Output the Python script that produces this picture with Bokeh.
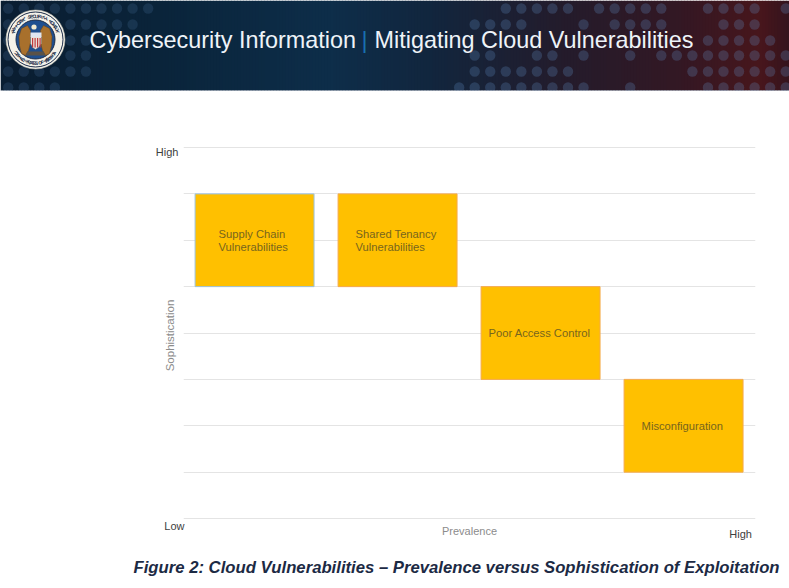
import math
import numpy as np
from bokeh.plotting import figure
from bokeh.layouts import column
from bokeh.models import Range1d, FixedTicker, Label, ColumnDataSource, Title
from bokeh.core.properties import value
from bokeh.embed import file_html
from bokeh.resources import INLINE

# ---- chart data ----
categories = ["Supply Chain\nVulnerabilities", "Shared Tenancy\nVulnerabilities",
              "Poor Access Control", "Misconfiguration"]
prevalence = [0.5, 1.5, 2.5, 3.5]
soph_low = [5, 5, 3, 1]
soph_high = [7, 7, 5, 3]
edge_colors = ["#9cc3e0", "#f5a94e", "#f5a94e", "#f5a94e"]
label_offsets = [-36, -42, -52, -42]
levels = [0, 1, 2, 3, 4, 5, 6, 7, 8]
y_tick_labels = {7.91: "High\u00a0\u00a0", -0.17: "Low"}
x_tick_labels = {3.899: "High"}

# ---- banner data ----
banner_left = "Cybersecurity Information"
banner_right = "Mitigating Cloud Vulnerabilities"
caption = "Figure 2: Cloud Vulnerabilities \u2013 Prevalence versus Sophistication of Exploitation"
dot_rows = {
    8: [0, 1, 2, 3, 4, 5, 6, 7, 8, 9, 32, 33, 34, 35, 36, 38, 39, 40, 41, 42, 45, 46, 47, 48, 50],
    24: [0, 4, 5, 6, 7, 8, 30, 31, 32, 33, 37, 39, 40, 41, 42, 46, 47, 48],
    40: [0, 4, 5, 45, 46, 47, 48, 49],
    55: [0, 4, 5, 30, 31, 34, 35, 37, 40, 42, 43, 44, 45, 46, 47, 48, 49, 50],
    71: [0, 1, 2, 3, 4, 5, 30, 31, 32, 33, 34, 35, 36, 44, 45, 46, 47, 48, 49, 50],
    87: [0, 1, 2, 3, 29, 30, 31, 32, 33, 34, 35, 36, 37, 40, 45, 46, 47, 48, 49, 50],
}
grad_x = [0, 150, 330, 430, 560, 680, 760, 789]
grad_r = [10, 10, 14, 18, 36, 52, 72, 50]
grad_g = [30, 36, 46, 38, 28, 24, 22, 20]
grad_b = [50, 58, 74, 62, 44, 36, 28, 30]

FONT = value("Liberation Sans")

# ---- banner ----
h = figure(width=789, height=91, x_range=Range1d(0, 789), y_range=Range1d(91, 0),
           toolbar_location=None, output_backend="svg", min_border=0)
h.axis.visible = False
h.grid.visible = False
h.outline_line_color = None

xs = np.arange(0, 789, 3)
cols = ["#%02x%02x%02x" % (int(np.interp(v, grad_x, grad_r)), int(np.interp(v, grad_x, grad_g)),
                           int(np.interp(v, grad_x, grad_b))) for v in xs]
h.quad(left=xs, right=xs + 3.5, top=0, bottom=90, fill_color=cols, line_color=None)

dx, dy, da = [], [], []
for row, cs in dot_rows.items():
    for c in cs:
        dx.append(7.7 + 15.55 * c)
        dy.append(row)
        da.append(0.17 if c < 20 else 0.26)
h.circle(dx, dy, radius=5.2, fill_color="#5f8fc4", fill_alpha=da, line_color=None)
h.quad(left=0, right=789, top=90, bottom=91, fill_color="#9aa4b4", line_color=None)

# seal
cx, cy = 35, 39
h.circle([cx], [cy], radius=29.5, fill_color="#f4f2ea", line_color="#c9c4b4", line_width=0.5)
h.circle([cx], [cy], radius=27.5, fill_color="#f4f2ea", line_color="#1c2c48", line_width=1)
h.circle([cx], [cy], radius=19.5, fill_color="#1f4f8f", line_color="#1c2c48", line_width=1)
for txt, start, end, up in [("NATIONAL SECURITY AGENCY", 160, 20, True),
                            ("UNITED STATES OF AMERICA", 215, 325, False)]:
    n = len(txt)
    for k, ch in enumerate(txt):
        a = math.radians(start + (end - start) * k / (n - 1))
        px = cx + 23.5 * math.cos(a)
        py = cy - 23.5 * math.sin(a)
        rot = a - math.pi / 2 if up else a + math.pi / 2
        h.text([px], [py], text=[ch], text_font=FONT, text_font_size="5px", text_font_style="bold",
               text_color="#1c2c48", text_align="center", text_baseline="middle", angle=[-rot])
wing_l_x = [27, 21, 18.5, 19, 21, 25, 28, 30, 30]
wing_l_y = [25, 28, 36, 45, 53, 55, 50, 42, 30]
wing_r_x = [43, 49, 51.5, 51, 49, 45, 42, 40, 40]
h.patch(wing_l_x, wing_l_y, fill_color="#a8702c", line_color="#6b4518", line_width=0.5)
h.patch(wing_r_x, wing_l_y, fill_color="#a8702c", line_color="#6b4518", line_width=0.5)
h.patch([30, 41, 41, 38, 35, 32, 30], [36, 36, 43, 47, 49, 47, 43], fill_color="#e8e2dc", line_color="#555555", line_width=0.4)
for sx in [31.5, 34, 36.5, 39]:
    h.quad(left=sx, right=sx + 1.2, top=37.5, bottom=47, fill_color="#c03a3a", line_color=None)
h.quad(left=30, right=41, top=32, bottom=36.5, fill_color="#dfe6f2", line_color=None)
h.circle([33.5], [26.5], radius=2.6, fill_color="#f2ead0", line_color=None)
h.patch([27, 43, 45, 25], [51, 51, 55, 55], fill_color="#5a5248", line_color=None)

h.text([89], [39], text=[banner_left], text_font=FONT, text_font_size="23.4px", text_color="#eef3f8",
       text_align="left", text_baseline="middle")
h.text([364], [39], text=["|"], text_font=FONT, text_font_size="23.4px", text_color="#1a6fb0",
       text_align="center", text_baseline="middle")
h.text([374], [39], text=[banner_right], text_font=FONT, text_font_size="23.4px", text_color="#eef3f8",
       text_align="left", text_baseline="middle")

# ---- chart ----
unit = 46.375
p = figure(width=789, height=497, x_range=Range1d(0.003, 4.003), y_range=Range1d(-9 / unit, 8 + 4 / unit),
           toolbar_location=None, output_backend="svg",
           min_border_left=183, min_border_right=34, min_border_top=52, min_border_bottom=61,
           frame_width=572, frame_height=384)
p.outline_line_color = None
p.xgrid.visible = False
p.ygrid.ticker = FixedTicker(ticks=levels)
p.ygrid.grid_line_color = "#e4e4e4"
p.ygrid.grid_line_width = 1

for ax, label, standoff, size, ticks, tick_standoff in [
        (p.xaxis[0], "Prevalence", -18, "11px", x_tick_labels, -6),
        (p.yaxis[0], "Sophistication", -23, "11.5px", y_tick_labels, -7)]:
    ax.axis_label = label
    ax.axis_label_text_font = "Liberation Sans"
    ax.axis_label_text_font_size = size
    ax.axis_label_text_font_style = "normal"
    ax.axis_label_text_color = "#8c8c8c"
    ax.axis_label_standoff = standoff
    ax.axis_line_color = None
    ax.major_tick_line_color = None
    ax.minor_tick_line_color = None
    ax.ticker = FixedTicker(ticks=list(ticks))
    ax.major_label_overrides = ticks
    ax.major_label_standoff = tick_standoff
    ax.major_label_text_font = "Liberation Sans"
    ax.major_label_text_font_size = "11px"
    ax.major_label_text_color = "#404040"

source = ColumnDataSource(dict(x=prevalence, bottom=soph_low, top=soph_high, edge=edge_colors))
p.vbar(x="x", bottom="bottom", top="top", width=0.832, fill_color="#ffc000",
       line_color="edge", line_width=1, source=source)

for xc, ylo, yhi, name, off in zip(prevalence, soph_low, soph_high, categories, label_offsets):
    p.add_layout(Label(x=xc, y=(ylo + yhi) / 2, text=name, x_offset=off, y_offset=0,
                       text_font="Liberation Sans", text_font_size="11.2px", text_color="#77651e",
                       text_align="left", text_baseline="middle", text_line_height=1.1))

p.add_layout(Title(text=caption, text_font="Liberation Sans", text_font_size="16.7px",
                   text_font_style="bold italic", text_color="#1c2a44", align="left",
                   offset=-50, standoff=32), "below")

page = column(column(h), column(p), spacing=0)
open("out.html", "w").write(file_html(page, INLINE))
